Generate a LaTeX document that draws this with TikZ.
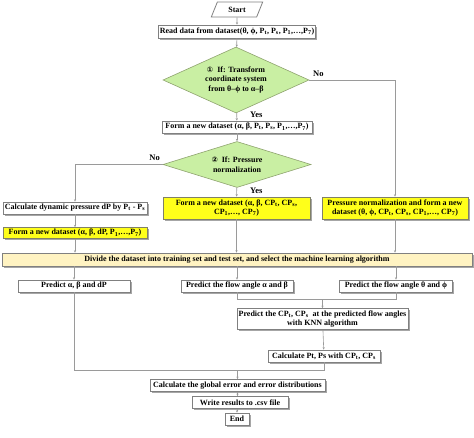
\documentclass[tikz,border=0pt]{standalone}
\usepackage{fontspec}
\setmainfont{Liberation Serif}
\newfontfamily\symf{DejaVu Sans}
\usetikzlibrary{shapes.geometric,shadows,arrows.meta}
\definecolor{bd}{HTML}{808080}
\definecolor{shd}{HTML}{A6A6A6}
\definecolor{yfill}{HTML}{FFFF1A}
\definecolor{pfill}{HTML}{FFF3C2}
\definecolor{gfill}{HTML}{C9EFA3}
\definecolor{gbd}{HTML}{8FA36F}
\definecolor{ln}{HTML}{9A9A9A}
\tikzset{
  every node/.style={font=\fontsize{8}{9.6}\selectfont\bfseries, inner sep=1pt},
  box/.style={draw=bd, line width=0.8pt, fill=white, align=center,
    drop shadow={shadow xshift=1.6pt, shadow yshift=-1.6pt, fill=shd, opacity=1}},
  ybox/.style={box, fill=yfill, draw=bd!80!olive},
  pbox/.style={box, fill=pfill},
  dec/.style={diamond, draw=gbd, line width=0.6pt, fill=gfill, align=center, inner sep=0pt},
  conn/.style={draw=ln, line width=0.6pt, -{Stealth[length=2.4pt,width=2.2pt]}},
  seg/.style={draw=ln, line width=0.6pt},
  lab/.style={font=\fontsize{8.5}{9}\selectfont\bfseries, inner sep=0pt},
  num/.style={}
}
\newcommand{\cnum}[1]{{\symf\fontsize{7.5}{8}\selectfont #1}}
\begin{document}
\begin{tikzpicture}[x=1pt,y=-1pt]
\useasboundingbox (0,0) rectangle (474,438);
% nodes
\node[trapezium, trapezium left angle=68, trapezium right angle=112, draw=bd, line width=0.8pt, fill=white,
  minimum width=40pt, minimum height=15pt, inner sep=1pt] (start) at (237,9.5) {Start};
\node[box, minimum width=154pt, minimum height=13pt] (read) at (237,31.5)
  {Read data from dataset(θ, ϕ, P\textsubscript{t}, P\textsubscript{s}, P\textsubscript{1},…,P\textsubscript{7})};
\node[dec, aspect=2.2, minimum width=146pt, minimum height=66pt] (d1) at (236,80)
  {\cnum{①}\ \ If: Transform\\coordinate system\\from θ–ϕ to α–β};
\node[box, minimum width=150pt, minimum height=12pt] (form1) at (237,127)
  {Form a new dataset (α, β, P\textsubscript{t}, P\textsubscript{s}, P\textsubscript{1},…,P\textsubscript{7})};
\node[dec, aspect=3.2, minimum width=148pt, minimum height=46pt] (d2) at (237,164.5)
  {\cnum{②}\ \ If: Pressure\\normalization};
\node[ybox, minimum width=147pt, minimum height=22pt] (fmid) at (236.5,208)
  {Form a new dataset (α, β, CP\textsubscript{t}, CP\textsubscript{s},\\CP\textsubscript{1},…, CP\textsubscript{7})};
\node[ybox, minimum width=146pt, minimum height=22pt] (fright) at (395,208)
  {Pressure normalization and form a new\\dataset (θ, ϕ, CP\textsubscript{t}, CP\textsubscript{s}, CP\textsubscript{1},…, CP\textsubscript{7})};
\node[box, minimum width=144pt, minimum height=12pt] (cdp) at (75,208)
  {Calculate dynamic pressure dP by P\textsubscript{t} - P\textsubscript{s}};
\node[ybox, minimum width=144pt, minimum height=11pt] (fleft) at (75,233)
  {Form a new dataset (α, β, dP, P\textsubscript{1},…,P\textsubscript{7})};
\node[pbox, minimum width=470pt, minimum height=13pt] (div) at (237,259.5)
  {Divide the dataset into training set and test set, and select the machine learning algorithm};
\node[box, minimum width=112pt, minimum height=12pt] (pa) at (74,286) {Predict α, β and dP};
\node[box, minimum width=112pt, minimum height=12pt] (pb) at (237,286) {Predict the flow angle α and β};
\node[box, minimum width=113pt, minimum height=12pt] (pc) at (396,286) {Predict the flow angle θ and ϕ};
\node[box, minimum width=171pt, minimum height=21pt] (pcp) at (322.5,319)
  {Predict the CP\textsubscript{t}, CP\textsubscript{s}\ \ at the predicted flow angles\\with KNN algorithm};
\node[box, minimum width=112pt, minimum height=12pt] (cpt) at (324,356) {Calculate Pt, Ps with CP\textsubscript{t}, CP\textsubscript{s}};
\node[box, minimum width=175pt, minimum height=12pt] (glob) at (237.5,385.5) {Calculate the global error and error distributions};
\node[box, minimum width=96pt, minimum height=12pt] (wr) at (240,402.5) {Write results to .csv file};
\node[box, minimum width=24pt, minimum height=12pt] (end) at (237,419) {End};
% helper coordinates
\coordinate (j1) at (322.5,299.5);
\coordinate (j2) at (237.5,370);
% connectors
\draw[conn] (start) -- (read);
\draw[conn] (read) -- (d1);
\draw[conn] (d1) -- (form1);
\draw[conn] (form1) -- (d2);
\draw[conn] (d2) -- (fmid);
\draw[conn] (d1.east) -| (fright.north);
\draw[conn] (d2.west) -| (cdp.north);
\draw[conn] (cdp) -- (fleft);
\draw[conn] (fleft) -- (fleft |- div.north);
\draw[conn] (fmid) -- (fmid |- div.north);
\draw[conn] (fright) -- (fright |- div.north);
\draw[conn] (pa |- div.south) -- (pa);
\draw[conn] (pb |- div.south) -- (pb);
\draw[conn] (pc |- div.south) -- (pc);
\draw[seg] (pb.south) |- (j1) -| (pc.south);
\draw[conn] (j1) -- (pcp);
\draw[conn] (pcp) -- (cpt);
\draw[seg] (cpt.south) |- (j2);
\draw[seg] (pa.south) |- (j2);
\draw[conn] (j2) -- (glob);
\draw[conn] (glob) -- (glob |- wr.north);
\draw[conn] (wr.south -| end) -- (end);
% labels
\node[lab, anchor=south west] (no1) at (313,76.5) {No};
\node[lab, anchor=west] (yes1) at (250,115) {Yes};
\node[lab, anchor=south east] (no2) at (160,161) {No};
\node[lab, anchor=west] (yes2) at (250,191) {Yes};
\end{tikzpicture}
\end{document}
